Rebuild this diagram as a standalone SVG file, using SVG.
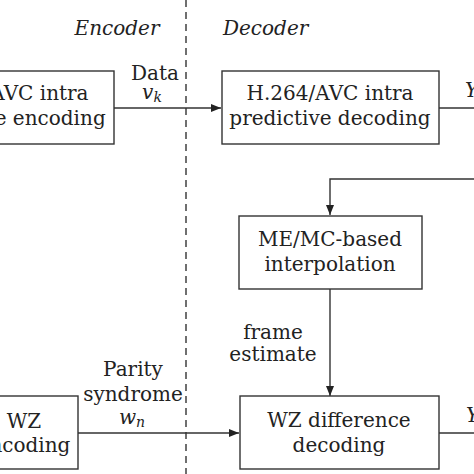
<svg xmlns="http://www.w3.org/2000/svg" width="474" height="474" viewBox="0 0 474 474">
<style>
.box{fill:#fff;stroke:#333;stroke-width:1.4}
.ln{fill:none;stroke:#333;stroke-width:1.4}
.t{font-family:'DejaVu Serif',serif;font-size:20px;fill:#222;text-anchor:middle}
.it{font-style:italic}
</style>
<defs>
<marker id="ah" viewBox="0 0 10 8" refX="10" refY="4" markerWidth="10" markerHeight="8" markerUnits="userSpaceOnUse" orient="auto">
<path d="M0,0 L10,4 L0,8 z" fill="#222"/>
</marker>
</defs>
<rect width="474" height="474" fill="#fff"/>
<line x1="186" y1="0" x2="186" y2="474" stroke="#333" stroke-width="1.4" stroke-dasharray="7,5"/>
<text class="t it" x="117" y="35">Encoder</text>
<text class="t it" x="223" y="35" style="text-anchor:start">Decoder</text>
<g id="connectors">
<line class="ln" x1="114" y1="108" x2="221" y2="108" marker-end="url(#ah)"/>
<line class="ln" x1="439" y1="108" x2="474" y2="108"/>
<polyline class="ln" points="474,179 330,179 330,215" marker-end="url(#ah)"/>
<line class="ln" x1="330" y1="289" x2="330" y2="396" marker-end="url(#ah)"/>
<line class="ln" x1="78" y1="433" x2="239" y2="433" marker-end="url(#ah)"/>
<line class="ln" x1="439" y1="433" x2="474" y2="433"/>
<text class="t" x="155" y="80">Data</text>
<text class="t it" x="152" y="99">v<tspan font-size="14" dy="3">k</tspan></text>
<text class="t" x="133" y="376">Parity</text>
<text class="t" x="133" y="401">syndrome</text>
<text class="t it" x="132" y="424">w<tspan font-size="14" dy="3">n</tspan></text>
<text class="t" x="273" y="339">frame</text>
<text class="t" x="273" y="361">estimate</text>
<text class="t it" x="465" y="97" style="text-anchor:start">Y</text>
<text class="t it" x="466" y="422" style="text-anchor:start">Y</text>
</g>
<g id="enc-intra">
<rect class="box" x="-103" y="71" width="217" height="73"/>
<text class="t" x="5" y="100">H.264/AVC intra</text>
<text class="t" x="5" y="125">predictive encoding</text>
</g>
<g id="dec-intra">
<rect class="box" x="222" y="71" width="217" height="73"/>
<text class="t" x="330" y="100">H.264/AVC intra</text>
<text class="t" x="330" y="125">predictive decoding</text>
</g>
<g id="memc">
<rect class="box" x="239" y="216" width="183" height="73"/>
<text class="t" x="330" y="246">ME/MC-based</text>
<text class="t" x="330" y="271">interpolation</text>
</g>
<g id="wz-enc">
<rect class="box" x="-30" y="396" width="108" height="73"/>
<text class="t" x="24" y="428">WZ</text>
<text class="t" x="24" y="452">encoding</text>
</g>
<g id="wz-dec">
<rect class="box" x="240" y="396" width="199" height="73"/>
<text class="t" x="339" y="427">WZ difference</text>
<text class="t" x="339" y="452">decoding</text>
</g>
</svg>
